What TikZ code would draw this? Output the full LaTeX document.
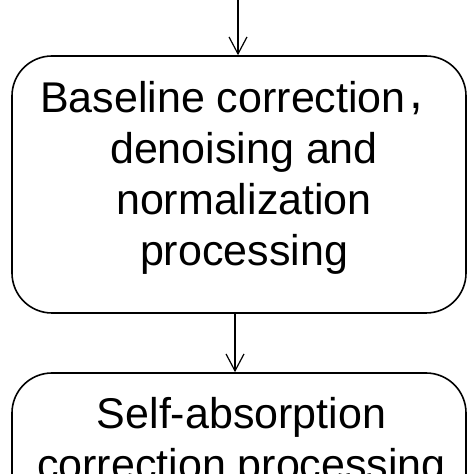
\documentclass[tikz,border=0pt]{standalone}
\usepackage{fontspec}
\setmainfont{Liberation Sans}
\usetikzlibrary{arrows.meta}

\begin{document}
\begin{tikzpicture}[x=1pt,y=1pt,
  every node/.style={font=\fontsize{43}{51}\selectfont},
  procbox/.style={draw,line width=1.6pt,rounded corners=40pt,minimum width=454pt,minimum height=257pt,inner sep=0pt},
  proctext/.style={align=center,inner sep=0pt},
  flow/.style={line width=1.2pt,-{Straight Barb[length=17pt,width=18pt]}}]
\clip (0,0) rectangle (474,474);
% processing steps
\node[procbox] (prep) at (239,289.5) {};
\node[proctext] (preptext) at (244,296.5) {Baseline correction\makebox[42pt][l]{\hspace{4pt}\raisebox{3.5pt}{\scalebox{1.15}{,}}}\\denoising and\\normalization\\processing};
\node[procbox] (selfabs) at (239,-27.5) {};
\node[proctext] (selfabstext) at (241.5,31.5) {Self-absorption\\correction processing};
% arrows
\coordinate (top) at (238,474);
\draw[flow] (top) -- (top |- prep.north);
\draw[flow] ([xshift=-4pt]prep.south) -- ([xshift=-4pt]selfabs.north);
\end{tikzpicture}
\end{document}
